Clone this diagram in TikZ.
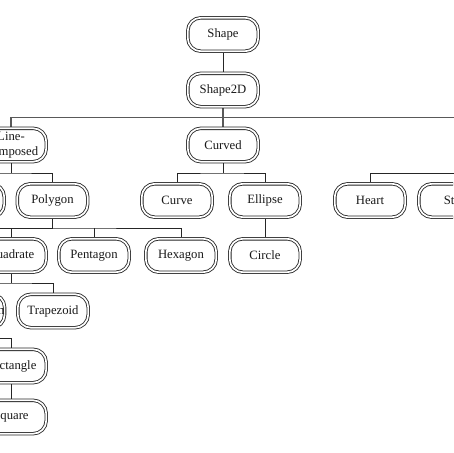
\documentclass[tikz,border=0pt]{standalone}
\usepackage{fontspec}
\setmainfont{Liberation Serif}
\pgfdeclarelayer{background}
\pgfsetlayers{background,main}
\tikzset{
  box/.style={draw=black!85, double=white, double distance=1.7pt, line width=0.85pt,
    rounded corners=13pt, minimum width=70.4pt, minimum height=33.4pt, inner sep=0pt,
    align=center, font=\fontsize{12.7}{15}\selectfont, text=black!90},
  link/.style={draw=black!85, line width=0.8pt},
  mainlink/.style={draw=black!65, line width=1.3pt}
}
\begin{document}
\begin{tikzpicture}[x=1pt,y=-1pt]
\useasboundingbox (0,0) rectangle (453,453);
\clip (0,0) rectangle (453,453);
% nodes
\node[box] (shape) at (223,34.5) {Shape};
\node[box] (shape2d) at (223,90) {Shape2D};
\node[box] (linecomp) at (11,145) {Line-\\Composed};
\node[box] (curved) at (223,145) {Curved};
\coordinate (other) at (520,145);
\node[box] (left1) at (-31,200.5) {};
\node[box] (polygon) at (52.5,200.5) {Polygon};
\node[box] (curve) at (177,200.5) {Curve};
\node[box] (ellipse) at (265,200.5) {Ellipse};
\node[box] (heart) at (370,200.5) {Heart};
\node[box] (star) at (454,200.5) {Star};
\coordinate (left3) at (-60,255.5);
\node[box] (quadrate) at (11,255.5) {Quadrate};
\node[box] (pentagon) at (94,255.5) {Pentagon};
\node[box] (hexagon) at (181,255.5) {Hexagon};
\node[box] (circle) at (265,255.5) {Circle};
\node[box] (parallel) at (-31,311) {Parallelogram};
\node[box] (trapezoid) at (53,311) {Trapezoid};
\node[box] (rectangle) at (11,366) {Rectangle};
\node[box] (square) at (11,417) {Square};
% connectors
\begin{pgfonlayer}{background}
\fill[white] (0,0) rectangle (453,453);
\draw[link] (shape.south) -- (shape2d.north);
\draw[mainlink] (shape2d.south) -- (223,117.5);
\draw[mainlink] (linecomp.north) |- (223,117.5) -| (curved.north);
\draw[mainlink] (223,117.5) -| (other);
\draw[link] (linecomp.south) -- (11,173);
\draw[link] (left1.north) |- (11,173) -| (polygon.north);
\draw[link] (curved.south) -- (223,173);
\draw[link] (curve.north) |- (223,173) -| (ellipse.north);
\draw[link] (other) |- (heart.north |- 0,173) -- (heart.north);
\draw[link] (star.north) -- (star.north |- 0,173);
\draw[link] (polygon.south) -- (52.5,228);
\draw[link] (left3) |- (52.5,228);
\draw[link] (quadrate.north) |- (52.5,228) -| (hexagon.north);
\draw[link] (pentagon.north) -- (pentagon.north |- 0,228);
\draw[link] (ellipse.south) -- (circle.north);
\draw[link] (quadrate.south) -- (11,283);
\draw[link] (parallel.north) |- (11,283) -| (trapezoid.north);
\draw[link] (parallel.south) |- (11,338) -- (rectangle.north);
\draw[link] (rectangle.south) -- (square.north);
\end{pgfonlayer}
\end{tikzpicture}
\end{document}
